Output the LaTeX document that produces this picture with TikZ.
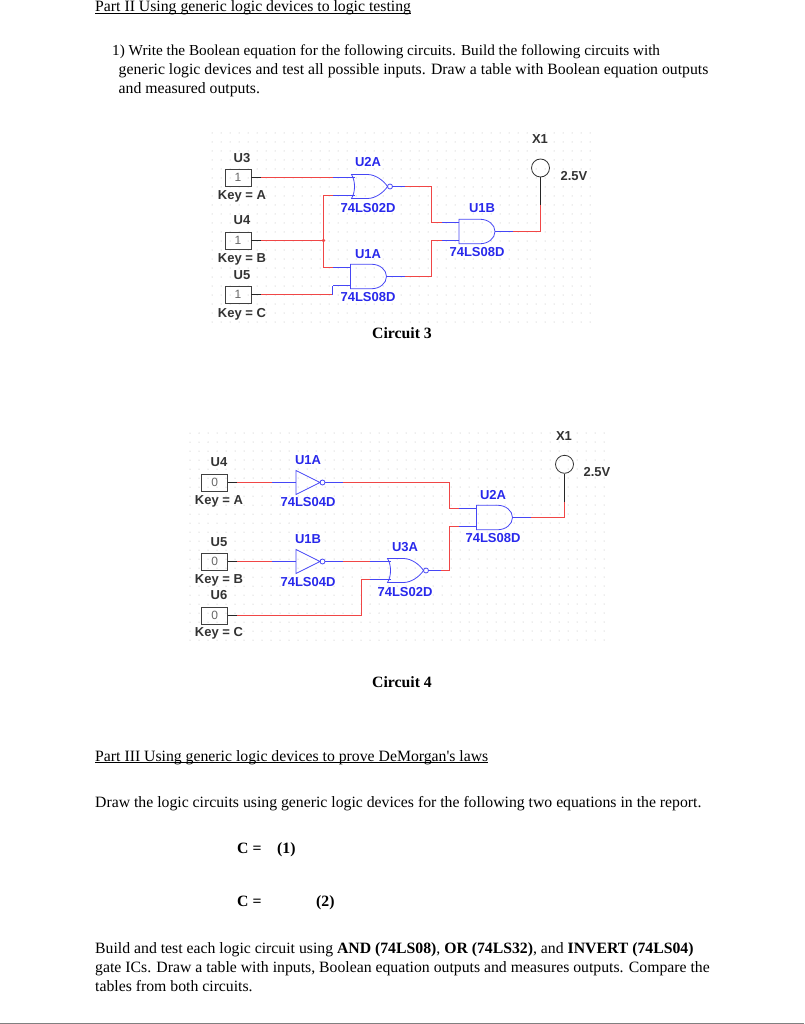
\documentclass[tikz,border=0pt]{standalone}
\usepackage{fontspec}
\setmainfont{Liberation Serif}
\setsansfont{Liberation Sans}
\definecolor{wirered}{RGB}{240,70,70}
\definecolor{gateblue}{RGB}{70,70,245}
\definecolor{labelblue}{RGB}{40,40,235}
\tikzset{
	page/.style={anchor=base west, inner sep=0pt, font=\fontsize{15.75}{15.75}\selectfont},
	pagebold/.style={page, font=\fontsize{15.75}{15.75}\selectfont\bfseries},
	tag/.style={inner sep=0pt, font=\fontsize{13}{13}\selectfont\sffamily\bfseries, text=black!80},
	parttag/.style={tag, text=labelblue},
	keybox/.style={draw=black!75, line width=0.9pt, minimum width=26pt, minimum height=17pt, inner sep=0pt, text=black!60, font=\fontsize{12}{12}\selectfont\sffamily},
	probe/.style={draw=black!80, circle, line width=0.8pt, minimum size=18pt, inner sep=0pt},
	gatebox/.style={minimum width=36pt, minimum height=24pt, inner sep=0pt},
	gateline/.style={draw=gateblue, line width=0.8pt},
	redwire/.style={wirered, line width=1pt},
	bluewire/.style={gateblue, line width=1pt},
	blackwire/.style={black!85, line width=0.9pt}
}
\newcommand{\dotgrid}[4]{%
	\foreach \gx in {#1,\the\numexpr#1+9\relax,...,#3}
		\foreach \gy in {#2,\the\numexpr#2+9\relax,...,#4}
			\fill[black!30] (\gx,\gy) circle (0.5);
}
\newcommand{\partline}[1]{\underline{\smash{#1}}}
% each gate leaves its pins as name-a, name-b, name-o
\newcommand{\andgate}[2]{%
	\node[gatebox] (#1) at #2 {};
	\begin{scope}[shift={(#1.center)}]
		\draw[gateline] (-18,-12.25) -- (3,-12.25) .. controls (11.3,-12.25) and (18,-6.8) .. (18,0)
			.. controls (18,6.8) and (11.3,12.25) .. (3,12.25) -- (-18,12.25) -- cycle;
		\coordinate (#1-a) at (-18,-9);
		\coordinate (#1-b) at (-18,9);
		\coordinate (#1-o) at (18,0);
	\end{scope}
}
\newcommand{\norgate}[2]{%
	\node[gatebox] (#1) at #2 {};
	\begin{scope}[shift={(#1.center)}]
		\draw[gateline] (-18,-12) -- (-2,-12) .. controls (6,-12) and (14,-6) .. (18,0)
			.. controls (14,6) and (6,12) .. (-2,12) -- (-18,12)
			.. controls (-14,6) and (-14,-6) .. (-18,-12) -- cycle;
		\draw[gateline] (20.5,0) circle (2.5);
		\coordinate (#1-a) at (-14.8,-9);
		\coordinate (#1-b) at (-14.8,9);
		\coordinate (#1-o) at (23,0);
	\end{scope}
}
\newcommand{\notgate}[2]{%
	\node[gatebox, minimum width=24pt] (#1) at #2 {};
	\begin{scope}[shift={(#1.center)}]
		\draw[gateline] (-12,-12) -- (12,0) -- (-12,12) -- cycle;
		\draw[gateline] (14.5,0) circle (2.5);
		\coordinate (#1-a) at (-12,0);
		\coordinate (#1-o) at (17,0);
	\end{scope}
}
\begin{document}
\begin{tikzpicture}[x=1pt, y=-1pt]
	\useasboundingbox (0,0) rectangle (804,1024);

	% page text
	\node[page] (parttwo) at (95,11.5) {\partline{Part II Using generic logic devices to logic testing}};
	\node[page, font=\fontsize{15.25}{15.25}\selectfont] (introa) at (112,56) {1) Write the Boolean equation for the following circuits. Build the following circuits with};
	\node[page] (introb) at (118.5,75) {generic logic devices and test all possible inputs. Draw a table with Boolean equation outputs};
	\node[page] (introc) at (118.5,94) {and measured outputs.};

	% circuit 3
	\dotgrid{212}{133}{590}{322}
	\node[keybox] (keyA) at (238,177.5) {1};
	\node[keybox] (keyB) at (238,240.5) {1};
	\node[keybox] (keyC) at (238,294.5) {1};
	\norgate{nor}{(369.5,186.5)}
	\andgate{andlow}{(368.5,276.5)}
	\andgate{andout}{(477,231.5)}
	\node[probe] (probe) at (540.5,168) {};
	\fill[wirered] (323.5,240.5) circle (1.8) coordinate (junction);

	\draw[blackwire] (keyA.east) -- ++(10,0) coordinate (a1);
	\draw[bluewire] (nor-a) -- ++(-21.5,0) coordinate (a2);
	\draw[redwire] (a1) -- (a2);
	\draw[blackwire] (keyB.east) -- ++(10,0) coordinate (b1);
	\draw[redwire] (b1) -- (junction);
	\draw[bluewire] (nor-b) -- ++(-21.5,0) coordinate (b2);
	\draw[bluewire] (andlow-a) -- ++(-18,0) coordinate (b3);
	\draw[redwire] (b2) -- (junction |- b2) -- (junction |- b3) -- (b3);
	\draw[blackwire] (keyC.east) -- ++(10,0) coordinate (c1);
	\draw[bluewire] (andlow-b) -- ++(-18,0) coordinate (c2);
	\draw[redwire] (c1) -- (c2 |- c1);
	\draw[bluewire] (c2 |- c1) -- (c2);

	\draw[bluewire] (nor-o) -- ++(12,0) coordinate (d1);
	\draw[bluewire] (andout-a) -- ++(-17,0) coordinate (d2);
	\draw[redwire] (d1) -- ++(27,0) |- (d2);
	\draw[bluewire] (andlow-o) -- ++(18,0) coordinate (e1);
	\draw[bluewire] (andout-b) -- ++(-17,0) coordinate (e2);
	\draw[redwire] (e1) -- ++(27,0) |- (e2);
	\draw[bluewire] (andout-o) -- ++(18,0) coordinate (f1);
	\draw[blackwire] (probe.south) -- ++(0,28) coordinate (f2);
	\draw[redwire] (f1) -| (f2);

	\node[tag] (tagU3) at (242,158) {U3};
	\node[tag] (tagKA) at (242,196) {Key = A};
	\node[tag] (tagU4) at (242,220) {U4};
	\node[tag] (tagKB) at (242,259) {Key = B};
	\node[tag] (tagU5) at (242,275) {U5};
	\node[tag] (tagKC) at (242,314) {Key = C};
	\node[parttag] (tagnor) at (368,162) {U2A};
	\node[parttag] (typenor) at (368,208) {74LS02D};
	\node[parttag] (tagand) at (368,254) {U1A};
	\node[parttag] (typeand) at (368,297) {74LS08D};
	\node[parttag] (tagout) at (482,208) {U1B};
	\node[parttag] (typeout) at (477,252) {74LS08D};
	\node[tag] (tagX) at (540,139) {X1};
	\node[tag] (tagV) at (574,176) {2.5V};
	\node[pagebold, anchor=center] (capthree) at (402,333) {Circuit 3};

	% circuit 4
	\dotgrid{190}{433}{612}{645}
	\node[keybox] (keyD) at (214.7,482.5) {0};
	\node[keybox] (keyE) at (214.7,561.5) {0};
	\node[keybox] (keyF) at (214.7,615.5) {0};
	\notgate{notA}{(308,482.5)}
	\notgate{notB}{(308,561.5)}
	\norgate{norB}{(405.5,570.5)}
	\andgate{andB}{(494.5,517.5)}
	\node[probe] (probeB) at (564.5,464.3) {};

	\draw[blackwire] (keyD.east) -- ++(9,0) coordinate (g1);
	\draw[bluewire] (notA-a) -- ++(-24,0) coordinate (g2);
	\draw[redwire] (g1) -- (g2);
	\draw[bluewire] (notA-o) -- ++(18,0) coordinate (g3);
	\draw[bluewire] (andB-a) -- ++(-17.5,0) coordinate (g4);
	\draw[redwire] (g3) -- ++(106.5,0) |- (g4);
	\draw[blackwire] (keyE.east) -- ++(9,0) coordinate (h1);
	\draw[bluewire] (notB-a) -- ++(-24,0) coordinate (h2);
	\draw[redwire] (h1) -- (h2);
	\draw[bluewire] (notB-o) -- ++(18,0) coordinate (h3);
	\draw[bluewire] (norB-a) -- ++(-20.7,0) coordinate (h4);
	\draw[redwire] (h3) -- (h4);
	\draw[blackwire] (keyF.east) -- ++(9,0) coordinate (i1);
	\draw[bluewire] (norB-b) -- ++(-20.7,0) coordinate (i2);
	\draw[redwire] (i1) -- ++(124.8,0) |- (i2);
	\draw[bluewire] (norB-o) -- ++(12,0) coordinate (j1);
	\draw[bluewire] (andB-b) -- ++(-17.5,0) coordinate (j2);
	\draw[redwire] (j1) -- ++(9,0) |- (j2);
	\draw[bluewire] (andB-o) -- ++(18,0) coordinate (k1);
	\draw[blackwire] (probeB.south) -- ++(0,28) coordinate (k2);
	\draw[redwire] (k1) -| (k2);

	\node[tag] (tagU4b) at (219,462) {U4};
	\node[tag] (tagKAb) at (219,501) {Key = A};
	\node[tag] (tagU5b) at (219,542) {U5};
	\node[tag] (tagKBb) at (219,580) {Key = B};
	\node[tag] (tagU6b) at (219,595) {U6};
	\node[tag] (tagKCb) at (219,633) {Key = C};
	\node[parttag] (tagnotA) at (308,460) {U1A};
	\node[parttag] (typenotA) at (308,502) {74LS04D};
	\node[parttag] (tagnotB) at (308,539) {U1B};
	\node[parttag] (typenotB) at (308,582) {74LS04D};
	\node[parttag] (tagnorB) at (405,547) {U3A};
	\node[parttag] (typenorB) at (405,592) {74LS02D};
	\node[parttag] (tagandB) at (493,495) {U2A};
	\node[parttag] (typeandB) at (493,538) {74LS08D};
	\node[tag] (tagXb) at (564,436) {X1};
	\node[tag] (tagVb) at (597,472) {2.5V};
	\node[pagebold, anchor=center] (capfour) at (402,682) {Circuit 4};

	% part three
	\node[page] (partthree) at (95,761) {\partline{Part III Using generic logic devices to prove DeMorgan\textquotesingle s laws}};
	\node[page] (drawline) at (95,807) {Draw the logic circuits using generic logic devices for the following two equations in the report.};
	\node[pagebold] (eqa) at (237,853) {C =};
	\node[pagebold] (numa) at (277,853) {(1)};
	\node[pagebold] (eqb) at (237,906) {C =};
	\node[pagebold] (numb) at (316,906) {(2)};
	\node[page] (builda) at (95,953) {Build and test each logic circuit using \textbf{AND (74LS08)}, \textbf{OR (74LS32)}, and \textbf{INVERT (74LS04)}};
	\node[page] (buildb) at (95,972) {gate ICs. Draw a table with inputs, Boolean equation outputs and measures outputs. Compare the};
	\node[page] (buildc) at (95,991) {tables from both circuits.};

	\draw[black!50, line width=1.2pt] (0,1023.4) -- (804,1023.4);
\end{tikzpicture}
\end{document}
